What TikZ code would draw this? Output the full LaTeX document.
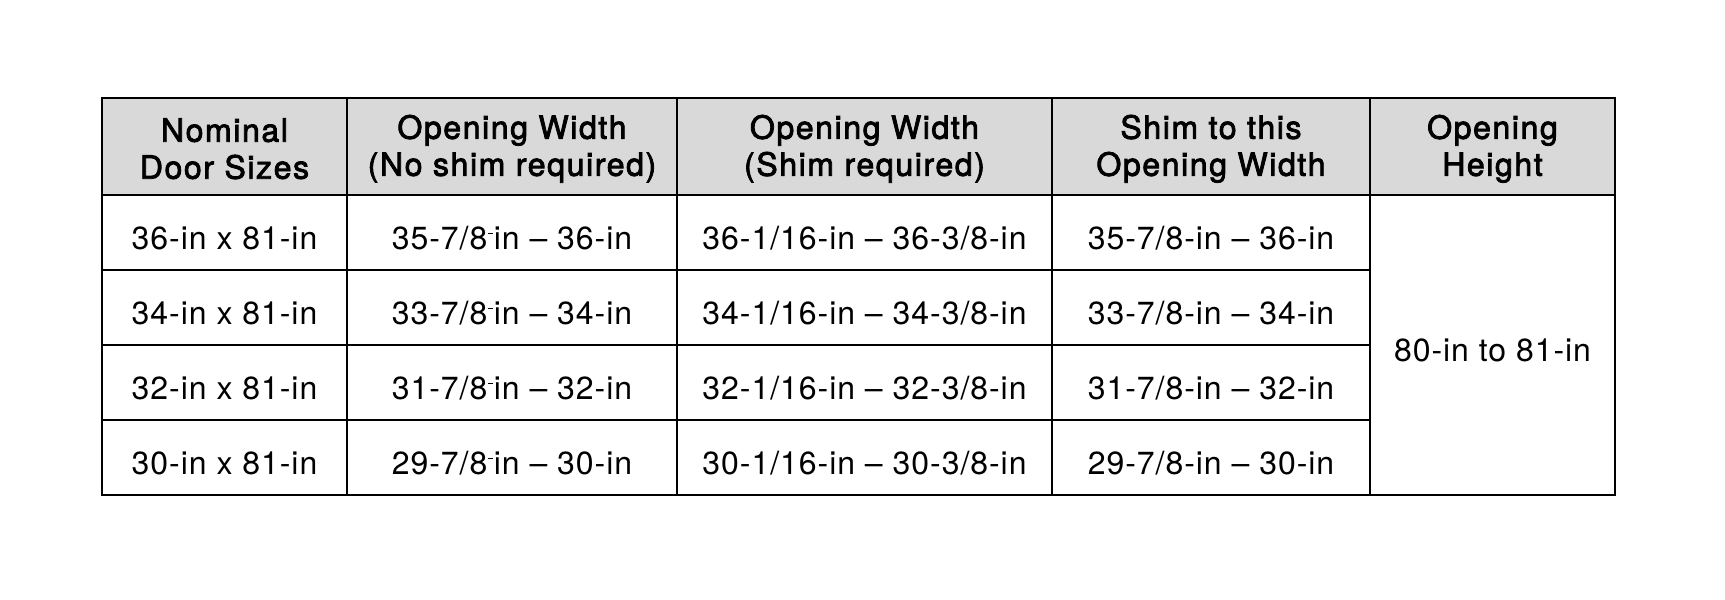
\documentclass[tikz,border=0pt]{standalone}
\usepackage{fontspec}
\setmainfont{TeX Gyre Heros}[LetterSpace=3]
\newfontfamily\headfont{TeX Gyre Heros}[LetterSpace=5,FakeBold=2.5]
\newcommand{\tinydash}{\kern1pt\raisebox{15.5pt}{\rule{4.5pt}{1.5pt}}\kern1pt}
\definecolor{headgray}{HTML}{D9D9D9}
\tikzset{
  grid/.style={line width=2pt, draw=black},
  headcell/.style={font=\headfont\fontsize{32}{37}\selectfont, align=center, inner sep=0pt, anchor=center},
  bodycell/.style={font=\fontsize{32}{36}\selectfont, inner sep=0pt, anchor=base},
}
\begin{document}
\begin{tikzpicture}[x=1pt,y=-1pt]
\useasboundingbox (0,0) rectangle (1725,600);
\fill[white] (0,0) rectangle (1725,600);
% header background
\fill[headgray] (102,98) rectangle (1615,195);
% grid
\draw[grid] (102,98) rectangle (1615,495);
\draw[grid] (102,195) -- (1615,195);
\foreach \yy in {270,345,420} \draw[grid] (102,\yy) -- (1370,\yy);
\foreach \xx in {347,677,1052,1370} \draw[grid] (\xx,98) -- (\xx,495);
% header
\node[headcell] (h1) at (224.5,148.8) {Nominal\\Door Sizes};
\node[headcell] (h2) at (512,148.8) {Opening Width\\(No shim required)};
\node[headcell] (h3) at (864.5,148.8) {Opening Width\\(Shim required)};
\node[headcell] (h4) at (1211,148.8) {Shim to this\\Opening Width};
\node[headcell] (h5) at (1492.5,148.8) {Opening\\Height};
% body
\node[bodycell] (a1) at (224.5,249.5) {36-in x 81-in};
\node[bodycell] (a2) at (224.5,324.5) {34-in x 81-in};
\node[bodycell] (a3) at (224.5,399.5) {32-in x 81-in};
\node[bodycell] (a4) at (224.5,474.5) {30-in x 81-in};
\node[bodycell] (b1) at (512,249.5) {35-7/8\tinydash in – 36-in};
\node[bodycell] (b2) at (512,324.5) {33-7/8\tinydash in – 34-in};
\node[bodycell] (b3) at (512,399.5) {31-7/8\tinydash in – 32-in};
\node[bodycell] (b4) at (512,474.5) {29-7/8\tinydash in – 30-in};
\node[bodycell] (c1) at (864.5,249.5) {36-1/16-in – 36-3/8-in};
\node[bodycell] (c2) at (864.5,324.5) {34-1/16-in – 34-3/8-in};
\node[bodycell] (c3) at (864.5,399.5) {32-1/16-in – 32-3/8-in};
\node[bodycell] (c4) at (864.5,474.5) {30-1/16-in – 30-3/8-in};
\node[bodycell] (d1) at (1211,249.5) {35-7/8-in – 36-in};
\node[bodycell] (d2) at (1211,324.5) {33-7/8-in – 34-in};
\node[bodycell] (d3) at (1211,399.5) {31-7/8-in – 32-in};
\node[bodycell] (d4) at (1211,474.5) {29-7/8-in – 30-in};
\node[bodycell] (e1) at (1492.5,361) {80-in to 81-in};
\end{tikzpicture}
\end{document}
